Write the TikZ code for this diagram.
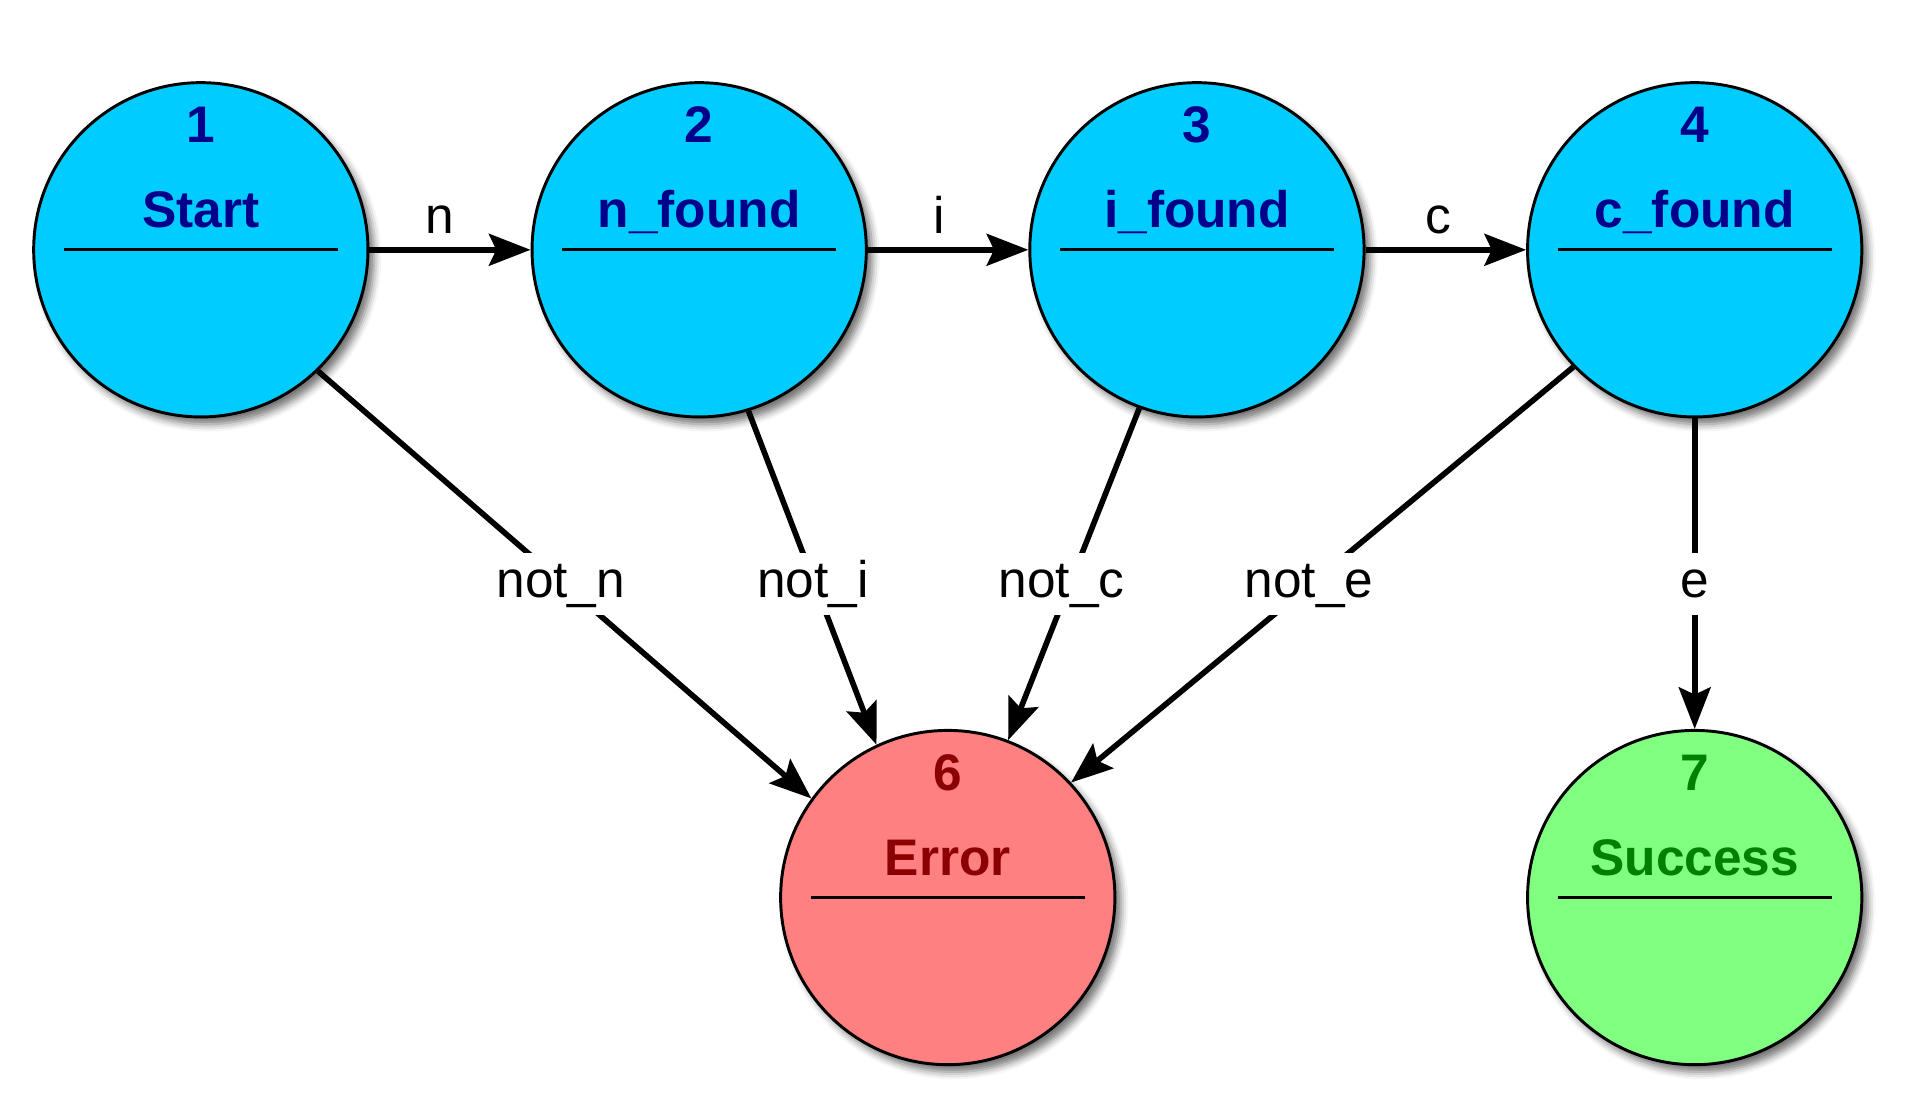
\documentclass[tikz,border=0pt]{standalone}
\usepackage{fontspec}
\setmainfont{Liberation Sans}
\usetikzlibrary{arrows.meta,shadows.blur}
\definecolor{statecyan}{HTML}{00CCFF}
\definecolor{errfill}{HTML}{FF8080}
\definecolor{succfill}{HTML}{80FF80}
\definecolor{statetext}{HTML}{00008B}
\definecolor{errtext}{HTML}{8B0000}
\definecolor{succtext}{HTML}{008000}
\begin{document}
\begin{tikzpicture}[x=1pt,y=-1pt,
  state/.style={circle, draw=black, line width=2.4pt, minimum size=273pt, inner sep=0pt,
    blur shadow={shadow xshift=5pt, shadow yshift=-6pt, shadow blur radius=6pt, shadow opacity=55}},
  numtext/.style={anchor=base, inner sep=0pt, font=\fontsize{42}{50}\selectfont\bfseries},
  nametext/.style={anchor=base, inner sep=0pt, font=\fontsize{42}{50}\selectfont\bfseries},
  divider/.style={line width=2.4pt, draw=black},
  edge/.style={line width=4.6pt, draw=black, -{Stealth[length=34pt, width=26pt, inset=6pt]}},
  toplabel/.style={anchor=base, inner sep=0pt, font=\fontsize{42}{50}\selectfont},
  elabel/.style={anchor=base, fill=white, inner xsep=3pt, inner ysep=6.5pt,
    text height=30pt, text depth=8pt, font=\fontsize{42}{50}\selectfont},
]
\useasboundingbox (0,0) rectangle (1568,913);

% states
\node[state, fill=statecyan] (s1) at (164,204) {};
\node[state, fill=statecyan] (s2) at (571,204) {};
\node[state, fill=statecyan] (s3) at (977.5,204) {};
\node[state, fill=statecyan] (s4) at (1384,204) {};
\node[state, fill=errfill] (s6) at (774,733) {};
\node[state, fill=succfill] (s7) at (1384,733) {};

% state texts and dividers
\node[numtext, text=statetext] (s1num) at ([yshift=87.5pt]s1.center) {1};
\node[nametext, text=statetext] (s1name) at ([yshift=18pt]s1.center) {Start};
\draw[divider] ([xshift=-112pt]s1.center) -- ([xshift=112pt]s1.center);

\node[numtext, text=statetext] (s2num) at ([yshift=87.5pt]s2.center) {2};
\node[nametext, text=statetext] (s2name) at ([yshift=18pt]s2.center) {n\_found};
\draw[divider] ([xshift=-112pt]s2.center) -- ([xshift=112pt]s2.center);

\node[numtext, text=statetext] (s3num) at ([yshift=87.5pt]s3.center) {3};
\node[nametext, text=statetext] (s3name) at ([yshift=18pt]s3.center) {i\_found};
\draw[divider] ([xshift=-112pt]s3.center) -- ([xshift=112pt]s3.center);

\node[numtext, text=statetext] (s4num) at ([yshift=87.5pt]s4.center) {4};
\node[nametext, text=statetext] (s4name) at ([yshift=18pt]s4.center) {c\_found};
\draw[divider] ([xshift=-112pt]s4.center) -- ([xshift=112pt]s4.center);

\node[numtext, text=errtext] (s6num) at ([yshift=87.5pt]s6.center) {6};
\node[nametext, text=errtext] (s6name) at ([yshift=18pt]s6.center) {Error};
\draw[divider] ([xshift=-112pt]s6.center) -- ([xshift=112pt]s6.center);

\node[numtext, text=succtext] (s7num) at ([yshift=87.5pt]s7.center) {7};
\node[nametext, text=succtext] (s7name) at ([yshift=18pt]s7.center) {Success};
\draw[divider] ([xshift=-112pt]s7.center) -- ([xshift=112pt]s7.center);

% horizontal transitions
\draw[edge] (s1) -- (s2);
\node[toplabel] (ln) at (359,191) {n};
\draw[edge] (s2) -- (s3);
\node[toplabel] (li) at (767,191) {i};
\draw[edge] (s3) -- (s4);
\node[toplabel] (lc) at (1175,191) {c};

% transitions to error / success
\draw[edge] (s1.-46.1) -- (s6.144.1);
\draw[edge] (s2.-73.2) -- (s6.115.7);
\draw[edge] (s3.-110.6) -- (s6.69.7);
\draw[edge] (s4.-136.9) -- (s6.43.4);
\draw[edge] (s4.south) -- (s7.north);

\node[elabel] (lnotn) at (458,488) {not\_n};
\node[elabel] (lnoti) at (664,488) {not\_i};
\node[elabel] (lnotc) at (867,488) {not\_c};
\node[elabel] (lnote) at (1069,488) {not\_e};
\node[elabel] (le) at (1384,488) {e};
\end{tikzpicture}
\end{document}
